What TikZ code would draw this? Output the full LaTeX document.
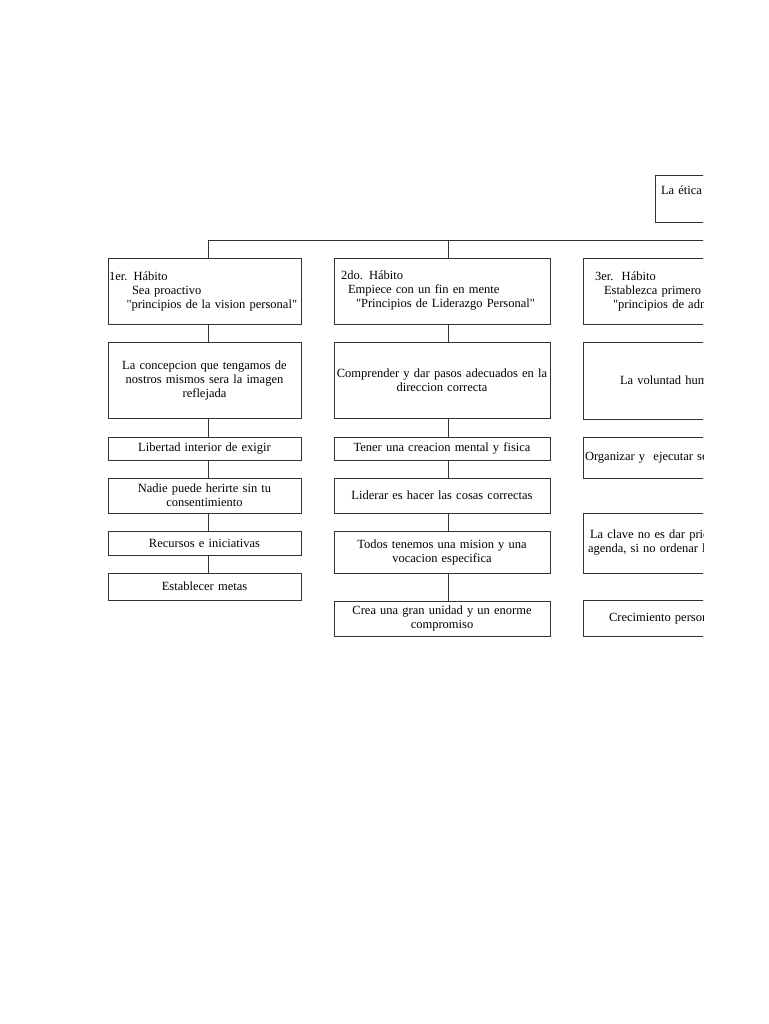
\documentclass[tikz,border=0pt]{standalone}
\usepackage{fontspec}
\setmainfont{Liberation Serif}
\begin{document}
\begin{tikzpicture}[x=1pt,y=-1pt,
    box/.style={draw=black!80, line width=0.8pt, rectangle, inner sep=1pt,
      align=center, font=\fontsize{12.5}{14}\selectfont},
    colone/.style={box, minimum width=193pt, text width=191pt},
    coltwo/.style={box, minimum width=216pt, text width=214pt},
    colthree/.style={box, align=left, minimum width=250pt, text width=248pt},
    link/.style={draw=black!80, line width=0.8pt}]
    \useasboundingbox (0,0) rectangle (768,1024);
    \clip (0,0) rectangle (703,1024);

    % top
    \node[box, align=left, minimum width=130pt, text width=128pt, minimum height=47pt,
      text depth=16pt] (top) at (720,198.5) {\hspace*{5pt}La ética del carácter};

    % first column
    \node[colone, align=left, minimum height=66pt] (c1a) at (204.5,291)
      {1er. Hábito\\\hspace*{23pt}Sea proactivo\\\hspace*{17.5pt}\mbox{\textquotedbl principios de la vision personal\textquotedbl}};
    \node[colone, minimum height=76pt] (c1b) at (204.5,380)
      {La concepcion que tengamos de\\nostros mismos sera la imagen\\reflejada};
    \node[colone, minimum height=23pt] (c1c) at (204.5,448.5) {Libertad interior de exigir};
    \node[colone, minimum height=35pt] (c1d) at (204.5,495.5)
      {Nadie puede herirte sin tu\\consentimiento};
    \node[colone, minimum height=24pt] (c1e) at (204.5,543) {Recursos e iniciativas};
    \node[colone, minimum height=27pt] (c1f) at (204.5,586.5) {Establecer metas};

    % second column
    \node[coltwo, align=left, minimum height=66pt] (c2a) at (442,291)
      {\hspace*{6pt}2do. Hábito\\\hspace*{13pt}Empiece con un fin en mente\\\hspace*{21pt}\mbox{\textquotedbl Principios de Liderazgo Personal\textquotedbl}};
    \node[coltwo, minimum height=76pt] (c2b) at (442,380)
      {\mbox{Comprender y dar pasos adecuados en la}\\direccion correcta};
    \node[coltwo, minimum height=23pt] (c2c) at (442,448.5) {Tener una creacion mental y fisica};
    \node[coltwo, minimum height=35pt] (c2d) at (442,495.5) {Liderar es hacer las cosas correctas};
    \node[coltwo, minimum height=42pt] (c2e) at (442,552)
      {Todos tenemos una mision y una\\vocacion especifica};
    \node[coltwo, minimum height=35pt] (c2f) at (442,618.5)
      {Crea una gran unidad y un enorme\\compromiso};

    % third column
    \node[colthree, minimum height=66pt] (c3a) at (708,291)
      {\hspace*{11pt}3er.\ \ Hábito\\\hspace*{20pt}Establezca primero lo primero\\\hspace*{29pt}\mbox{\textquotedbl principios de administracion\textquotedbl}};
    \node[colthree, minimum height=77pt] (c3b) at (708,380.5)
      {\hspace*{36pt}La voluntad humana};
    \node[colthree, minimum height=41pt] (c3c) at (708,457.5)
      {\hspace*{1pt}Organizar y\ \ ejecutar segun prioridades};
    \node[colthree, minimum height=60pt] (c3d) at (708,543)
      {\hspace*{6pt}La clave no es dar prioridad a la\\\hspace*{4pt}agenda, si no ordenar las prioridades};
    \node[colthree, minimum height=36pt] (c3e) at (708,618.5)
      {\hspace*{25pt}Crecimiento personal};

    % connectors
    \coordinate (bar) at (0,240);
    \coordinate (h1) at ([xshift=3.5pt]c1a.north);
    \coordinate (h2) at ([xshift=6pt]c2a.north);
    \draw[link] (h1) -- (h1 |- bar) -- (bar -| c3a.north) -- (c3a.north);
    \draw[link] (h2) -- (h2 |- bar);
    \draw[link] (top.south) -- (top.south |- bar);
    \foreach \c/\dx in {1/3.5,2/6} {
        \foreach \i/\j in {a/b,b/c,c/d,d/e,e/f} {
            \draw[link] ([xshift=\dx pt]c\c\i.south) -- ([xshift=\dx pt]c\c\j.north);
        }
    }
    \foreach \i/\j in {a/b,b/c,c/d,d/e} {
        \draw[link] (c3\i.south) -- (c3\j.north);
    }
\end{tikzpicture}
\end{document}
